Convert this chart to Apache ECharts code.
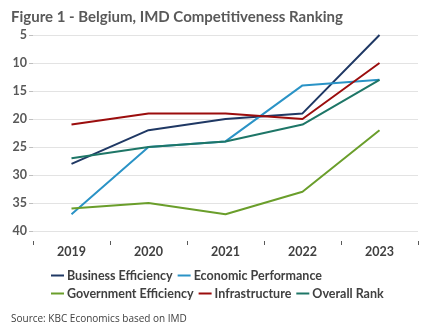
<!DOCTYPE html>
<html><head><meta charset="utf-8">
<script src="https://cdn.jsdelivr.net/npm/echarts@6/dist/echarts.min.js"></script>
<style>html,body{margin:0;padding:0;background:#fff}#c{width:432px;height:334px}</style>
</head><body><div id="c"></div>
<script>
var years = ['2019','2020','2021','2022','2023'];
var businessEfficiency = [28, 22, 20, 19, 5];
var economicPerformance = [37, 25, 24, 14, 13];
var governmentEfficiency = [36, 35, 37, 33, 22];
var infrastructure = [21, 19, 19, 20, 10];
var overallRank = [27, 25, 24, 21, 13];
var yTicks = [5, 10, 15, 20, 25, 30, 35, 40];

var F = 'Lato, "Open Sans", sans-serif';
var F2 = '"Open Sans", "Noto Sans", sans-serif';
function s(name, data, color) {
  return {name: name, type: 'line', data: data, symbol: 'none',
    lineStyle: {color: color, width: 2}, itemStyle: {color: color}};
}
var chart = echarts.init(document.getElementById('c'));
chart.setOption({
  animation: false,
  title: [{text: 'Figure 1 - Belgium, IMD Competitiveness Ranking', left: 6, top: 5,
    textStyle: {fontFamily: F, fontSize: 15, fontWeight: 'bold', color: '#595959'}},
    {text: 'Source: KBC Economics based on IMD', left: 6, top: 309,
    textStyle: {fontFamily: F2, fontSize: 10, fontWeight: 'normal', color: '#404040', width: 180}}],
  grid: {left: 33, right: 14, top: 35, bottom: 103},
  legend: [
    {data: ['Business Efficiency', 'Economic Performance'], left: 46, top: 264, itemWidth: 13, itemHeight: 2, itemGap: 5, icon: 'rect',
      textStyle: {fontFamily: F, fontSize: 12.5, fontWeight: 'bold', color: '#404040', padding: [0,0,0,-2]}},
    {data: ['Government Efficiency', 'Infrastructure', 'Overall Rank'], left: 46, top: 282, itemWidth: 13, itemHeight: 2, itemGap: 5, icon: 'rect',
      textStyle: {fontFamily: F, fontSize: 12.5, fontWeight: 'bold', color: '#404040', padding: [0,0,0,-2]}}
  ],
  xAxis: {type: 'category', data: years, boundaryGap: true, offset: 10,
    axisLine: {show: false},
    axisTick: {show: true, length: 4, lineStyle: {color: '#595959'}},
    axisLabel: {fontFamily: F, fontSize: 12.5, fontWeight: 'bold', color: '#404040', margin: 4}},
  yAxis: {type: 'value', inverse: true, min: 5, max: 40, interval: 5,
    axisLine: {show: false},
    axisTick: {show: true, length: 4, lineStyle: {color: '#bfbfbf'}},
    axisLabel: {fontFamily: F, fontSize: 12.5, fontWeight: 'bold', color: '#595959', margin: 6,
      formatter: function(v){ return yTicks.indexOf(v) >= 0 ? String(v) : ''; }},
    splitLine: {lineStyle: {color: '#e3e3e3', width: 1}}},
  series: [
    s('Business Efficiency', businessEfficiency, '#1f3864'),
    s('Economic Performance', economicPerformance, '#2a93c6'),
    s('Government Efficiency', governmentEfficiency, '#6a9e2b'),
    s('Infrastructure', infrastructure, '#9b0d0d'),
    s('Overall Rank', overallRank, '#1e7667')
  ]
});
</script></body></html>
